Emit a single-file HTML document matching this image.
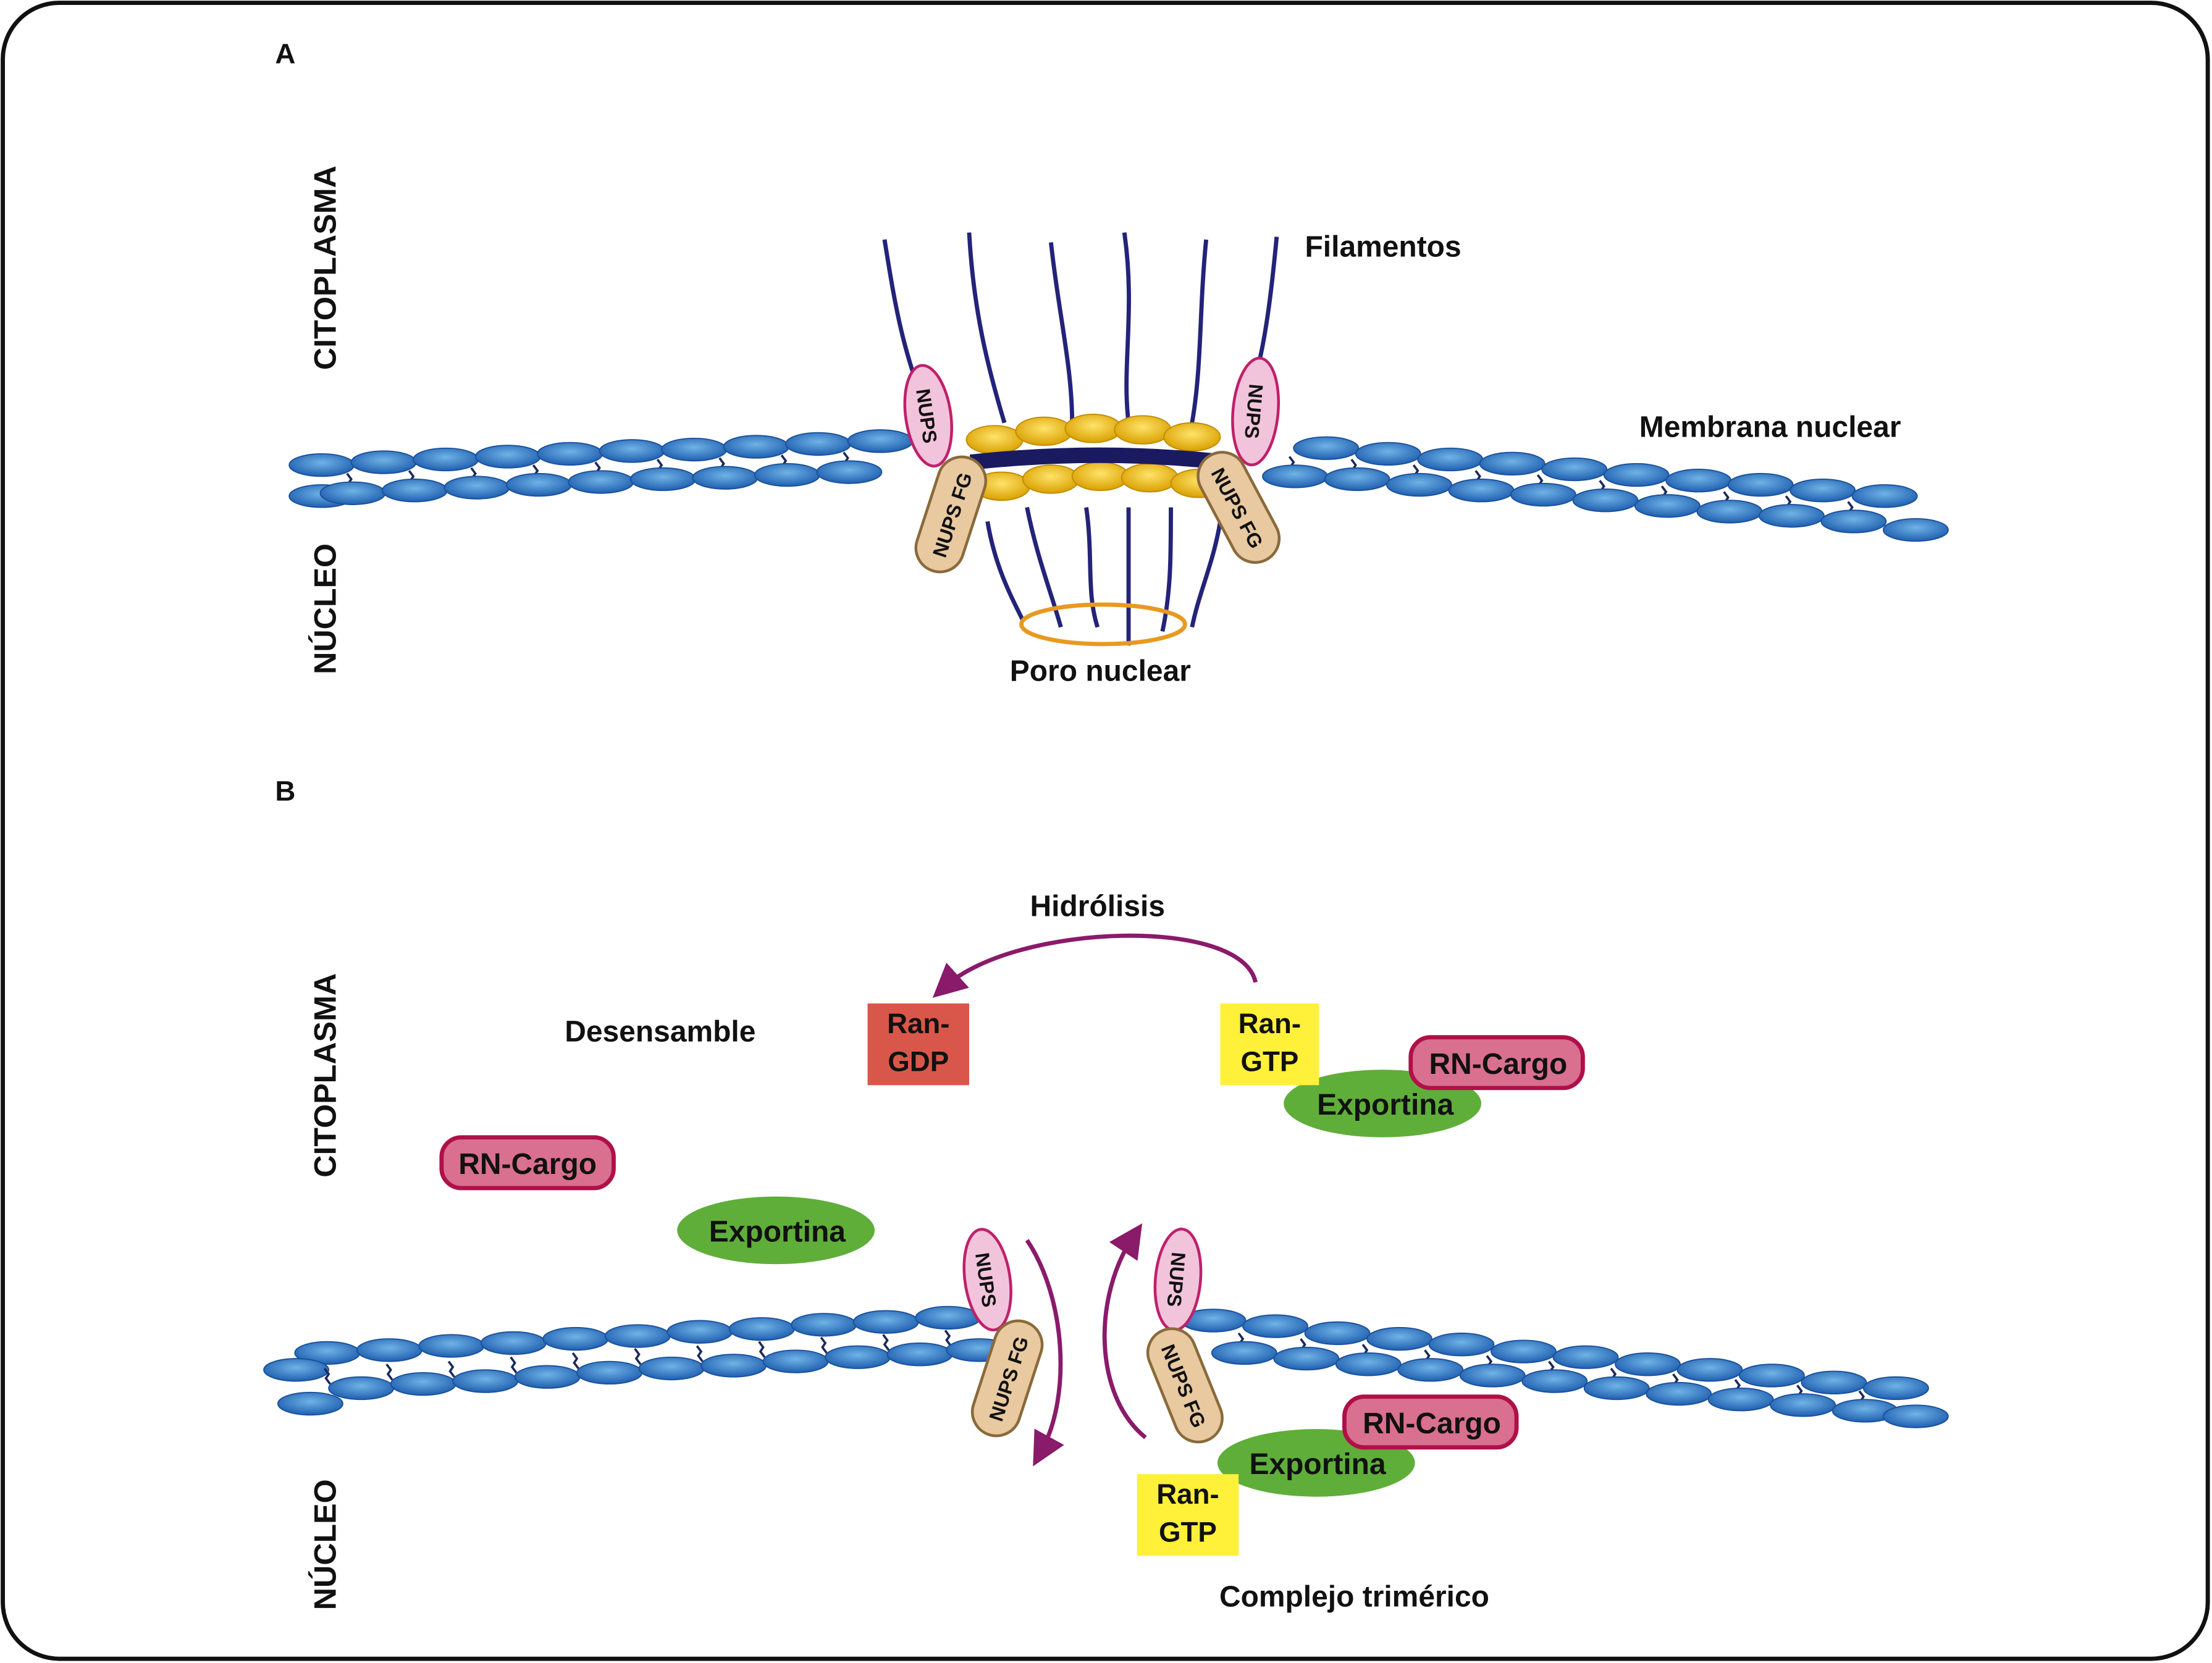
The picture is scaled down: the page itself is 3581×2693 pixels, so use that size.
<!DOCTYPE html>
<html><head><meta charset="utf-8"><style>
html,body{margin:0;padding:0;background:#fff}
svg{display:block}
text{font-family:"Liberation Sans",Arial,sans-serif;font-weight:bold;fill:#111}
</style></head><body>
<svg width="3581" height="2693" viewBox="0 0 1568 1180" preserveAspectRatio="none" xmlns="http://www.w3.org/2000/svg">
<defs>
<radialGradient id="bg" cx="50%" cy="40%" r="60%"><stop offset="0" stop-color="#6fb3e6"/><stop offset="1" stop-color="#1f5fb0"/></radialGradient>
<radialGradient id="gg" cx="50%" cy="40%" r="60%"><stop offset="0" stop-color="#ffe36a"/><stop offset="1" stop-color="#d9a000"/></radialGradient>
<g id="e"><ellipse rx="23" ry="8" fill="url(#bg)" stroke="#1a4f9a" stroke-width="0.8"/></g>
<g id="l"><path d="M-4,-14 l3,4 l-2,3 l3,4" stroke="#1a2a5a" stroke-width="1.6" fill="none"/></g>
<g id="g"><ellipse rx="20" ry="10" fill="url(#gg)" stroke="#c08a00" stroke-width="0.8"/></g>
<marker id="ar" markerWidth="8" markerHeight="8" refX="4" refY="4" orient="auto" markerUnits="strokeWidth"><path d="M0,0 L8,4 L0,8 Z" fill="#8a1a6a"/></marker>
</defs>
<rect x="2" y="2" width="1563" height="1175" rx="40" fill="#fff" stroke="#111" stroke-width="3"/>

<text x="195" y="45" font-size="20">A</text>
<text x="195" y="568" font-size="20">B</text>
<text transform="translate(238,190) rotate(-90)" font-size="22" text-anchor="middle">CITOPLASMA</text>
<text transform="translate(238,432) rotate(-90)" font-size="22" text-anchor="middle">NÚCLEO</text>
<text transform="translate(238,763) rotate(-90)" font-size="22" text-anchor="middle">CITOPLASMA</text>
<text transform="translate(238,1096) rotate(-90)" font-size="22" text-anchor="middle">NÚCLEO</text>

<!-- Membrane A left -->
<g>
<use href="#e" x="228" y="330"/><use href="#e" x="272" y="328"/><use href="#e" x="316" y="326"/><use href="#e" x="360" y="324"/><use href="#e" x="404" y="322"/><use href="#e" x="448" y="320"/><use href="#e" x="492" y="319"/><use href="#e" x="536" y="317"/><use href="#e" x="580" y="315"/><use href="#e" x="624" y="313"/>
<use href="#l" x="250" y="350"/><use href="#l" x="294" y="348"/><use href="#l" x="338" y="346"/><use href="#l" x="382" y="344"/><use href="#l" x="426" y="342"/><use href="#l" x="470" y="340"/><use href="#l" x="514" y="339"/><use href="#l" x="558" y="337"/><use href="#l" x="602" y="335"/>
<use href="#e" x="228" y="352"/><use href="#e" x="250" y="350"/><use href="#e" x="294" y="348"/><use href="#e" x="338" y="346"/><use href="#e" x="382" y="344"/><use href="#e" x="426" y="342"/><use href="#e" x="470" y="340"/><use href="#e" x="514" y="339"/><use href="#e" x="558" y="337"/><use href="#e" x="602" y="335"/>
</g>
<!-- Membrane A right -->
<g>
<use href="#e" x="940" y="318"/><use href="#e" x="984" y="322"/><use href="#e" x="1028" y="326"/><use href="#e" x="1072" y="329"/><use href="#e" x="1116" y="333"/><use href="#e" x="1160" y="337"/><use href="#e" x="1204" y="341"/><use href="#e" x="1248" y="344"/><use href="#e" x="1292" y="348"/><use href="#e" x="1336" y="352"/>
<use href="#l" x="918" y="338"/><use href="#l" x="962" y="340"/><use href="#l" x="1006" y="344"/><use href="#l" x="1050" y="348"/><use href="#l" x="1094" y="351"/><use href="#l" x="1138" y="355"/><use href="#l" x="1182" y="359"/><use href="#l" x="1226" y="363"/><use href="#l" x="1270" y="366"/><use href="#l" x="1314" y="370"/>
<use href="#e" x="918" y="338"/><use href="#e" x="962" y="340"/><use href="#e" x="1006" y="344"/><use href="#e" x="1050" y="348"/><use href="#e" x="1094" y="351"/><use href="#e" x="1138" y="355"/><use href="#e" x="1182" y="359"/><use href="#e" x="1226" y="363"/><use href="#e" x="1270" y="366"/><use href="#e" x="1314" y="370"/><use href="#e" x="1358" y="376"/>
</g>

<!-- Filaments A -->
<g stroke="#23237a" stroke-width="3" fill="none">
<path d="M627,170 C635,220 640,250 660,300"/>
<path d="M687,165 C690,220 700,260 712,300"/>
<path d="M745,172 C750,220 760,260 760,300"/>
<path d="M797,165 C805,220 795,260 800,300"/>
<path d="M855,170 C850,220 852,260 845,300"/>
<path d="M905,168 C900,220 895,260 880,300"/>
<path d="M700,370 C705,400 715,420 725,440"/>
<path d="M728,360 C735,395 745,420 752,445"/>
<path d="M770,360 C775,395 770,420 778,445"/>
<path d="M800,360 C800,395 800,430 800,458"/>
<path d="M830,360 C830,395 830,420 824,448"/>
<path d="M865,370 C860,400 850,420 845,445"/>
</g>
<ellipse cx="782" cy="443" rx="58" ry="14" fill="none" stroke="#e89a20" stroke-width="3"/>
<!-- Pore gold -->
<g>
<use href="#g" x="705" y="312"/><use href="#g" x="740" y="306"/><use href="#g" x="775" y="304"/><use href="#g" x="810" y="305"/><use href="#g" x="845" y="310"/>
<use href="#g" x="710" y="345"/><use href="#g" x="745" y="340"/><use href="#g" x="780" y="338"/><use href="#g" x="815" y="339"/><use href="#g" x="850" y="343"/>
</g>
<path d="M688,328 Q780,318 868,328" stroke="#1a1a60" stroke-width="11" fill="none"/>
<!-- NUPS A -->
<g transform="translate(658,295) rotate(82)"><ellipse rx="36" ry="16" fill="#f2c4dc" stroke="#c0206a" stroke-width="2"/><text y="6" font-size="14" text-anchor="middle">NUPS</text></g>
<g transform="translate(674,365) rotate(-72)"><rect x="-42" y="-17" width="84" height="34" rx="17" fill="#e8c9a0" stroke="#8a6a3a" stroke-width="2"/><text y="6" font-size="14" text-anchor="middle">NUPS FG</text></g>
<g transform="translate(890,292) rotate(95)"><ellipse rx="38" ry="16" fill="#f2c4dc" stroke="#c0206a" stroke-width="2"/><text y="6" font-size="14" text-anchor="middle">NUPS</text></g>
<g transform="translate(878,360) rotate(62)"><rect x="-42" y="-17" width="84" height="34" rx="17" fill="#e8c9a0" stroke="#8a6a3a" stroke-width="2"/><text y="6" font-size="14" text-anchor="middle">NUPS FG</text></g>

<text x="925" y="182" font-size="21">Filamentos</text>
<text x="1162" y="310" font-size="21">Membrana nuclear</text>
<text x="780" y="483" font-size="21" text-anchor="middle">Poro nuclear</text>

<!-- Membrane B left -->
<g>
<use href="#e" x="232" y="960"/><use href="#e" x="276" y="958"/><use href="#e" x="320" y="955"/><use href="#e" x="364" y="953"/><use href="#e" x="408" y="950"/><use href="#e" x="452" y="948"/><use href="#e" x="496" y="945"/><use href="#e" x="540" y="943"/><use href="#e" x="584" y="940"/><use href="#e" x="628" y="938"/><use href="#e" x="672" y="935"/>
<use href="#e" x="210" y="972"/>
<use href="#l" x="234" y="985"/><use href="#l" x="278" y="982"/><use href="#l" x="322" y="980"/><use href="#l" x="366" y="977"/><use href="#l" x="410" y="974"/><use href="#l" x="454" y="971"/><use href="#l" x="498" y="969"/><use href="#l" x="542" y="966"/><use href="#l" x="586" y="963"/><use href="#l" x="630" y="961"/><use href="#l" x="674" y="958"/>
<use href="#e" x="220" y="996"/><use href="#e" x="256" y="985"/><use href="#e" x="300" y="982"/><use href="#e" x="344" y="980"/><use href="#e" x="388" y="977"/><use href="#e" x="432" y="974"/><use href="#e" x="476" y="971"/><use href="#e" x="520" y="969"/><use href="#e" x="564" y="966"/><use href="#e" x="608" y="963"/><use href="#e" x="652" y="961"/><use href="#e" x="694" y="958"/>
</g>
<!-- Membrane B right -->
<g>
<use href="#e" x="860" y="937"/><use href="#e" x="904" y="941"/><use href="#e" x="948" y="946"/><use href="#e" x="992" y="950"/><use href="#e" x="1036" y="954"/><use href="#e" x="1080" y="959"/><use href="#e" x="1124" y="963"/><use href="#e" x="1168" y="968"/><use href="#e" x="1212" y="972"/><use href="#e" x="1256" y="976"/><use href="#e" x="1300" y="981"/><use href="#e" x="1344" y="985"/>
<use href="#l" x="882" y="960"/><use href="#l" x="926" y="964"/><use href="#l" x="970" y="968"/><use href="#l" x="1014" y="972"/><use href="#l" x="1058" y="976"/><use href="#l" x="1102" y="980"/><use href="#l" x="1146" y="985"/><use href="#l" x="1190" y="989"/><use href="#l" x="1234" y="993"/><use href="#l" x="1278" y="997"/><use href="#l" x="1322" y="1001"/>
<use href="#e" x="882" y="960"/><use href="#e" x="926" y="964"/><use href="#e" x="970" y="968"/><use href="#e" x="1014" y="972"/><use href="#e" x="1058" y="976"/><use href="#e" x="1102" y="980"/><use href="#e" x="1146" y="985"/><use href="#e" x="1190" y="989"/><use href="#e" x="1234" y="993"/><use href="#e" x="1278" y="997"/><use href="#e" x="1322" y="1001"/><use href="#e" x="1358" y="1005"/>
</g>
<!-- NUPS B -->
<g transform="translate(700,908) rotate(82)"><ellipse rx="36" ry="16" fill="#f2c4dc" stroke="#c0206a" stroke-width="2"/><text y="6" font-size="14" text-anchor="middle">NUPS</text></g>
<g transform="translate(714,978) rotate(-72)"><rect x="-42" y="-17" width="84" height="34" rx="17" fill="#e8c9a0" stroke="#8a6a3a" stroke-width="2"/><text y="6" font-size="14" text-anchor="middle">NUPS FG</text></g>
<g transform="translate(835,908) rotate(95)"><ellipse rx="36" ry="16" fill="#f2c4dc" stroke="#c0206a" stroke-width="2"/><text y="6" font-size="14" text-anchor="middle">NUPS</text></g>
<g transform="translate(840,983) rotate(68)"><rect x="-42" y="-17" width="84" height="34" rx="17" fill="#e8c9a0" stroke="#8a6a3a" stroke-width="2"/><text y="6" font-size="14" text-anchor="middle">NUPS FG</text></g>

<!-- arrows B -->
<path d="M728,880 C755,920 760,990 738,1030" stroke="#8a1a6a" stroke-width="3" fill="none" marker-end="url(#ar)"/>
<path d="M812,1020 C775,990 775,920 803,878" stroke="#8a1a6a" stroke-width="3" fill="none" marker-end="url(#ar)"/>
<path d="M890,697 C880,650 720,655 670,700" stroke="#8a1a6a" stroke-width="3" fill="none" marker-end="url(#ar)"/>
<text x="778" y="650" font-size="21" text-anchor="middle">Hidrólisis</text>
<text x="468" y="739" font-size="21" text-anchor="middle">Desensamble</text>

<rect x="615" y="712" width="72" height="58" fill="#d9574a"/>
<text x="651" y="733" font-size="20" text-anchor="middle">Ran-</text><text x="651" y="760" font-size="20" text-anchor="middle">GDP</text>

<ellipse cx="980" cy="783" rx="70" ry="24" fill="#5fae3a"/>
<text x="982" y="791" font-size="21" text-anchor="middle">Exportina</text>
<rect x="865" y="712" width="70" height="58" fill="#fff03a"/>
<text x="900" y="733" font-size="20" text-anchor="middle">Ran-</text><text x="900" y="760" font-size="20" text-anchor="middle">GTP</text>
<rect x="1000" y="736" width="122" height="36" rx="14" fill="#d9708f" stroke="#b0104a" stroke-width="3"/>
<text x="1062" y="762" font-size="21" text-anchor="middle">RN-Cargo</text>

<rect x="313" y="807" width="122" height="36" rx="14" fill="#d9708f" stroke="#b0104a" stroke-width="3"/>
<text x="374" y="833" font-size="21" text-anchor="middle">RN-Cargo</text>
<ellipse cx="550" cy="873" rx="70" ry="24" fill="#5fae3a"/>
<text x="551" y="881" font-size="21" text-anchor="middle">Exportina</text>

<ellipse cx="933" cy="1038" rx="70" ry="24" fill="#5fae3a"/>
<text x="934" y="1046" font-size="21" text-anchor="middle">Exportina</text>
<rect x="953" y="991" width="122" height="36" rx="14" fill="#d9708f" stroke="#b0104a" stroke-width="3"/>
<text x="1015" y="1017" font-size="21" text-anchor="middle">RN-Cargo</text>
<rect x="806" y="1046" width="72" height="58" fill="#fff03a"/>
<text x="842" y="1067" font-size="20" text-anchor="middle">Ran-</text><text x="842" y="1094" font-size="20" text-anchor="middle">GTP</text>
<text x="960" y="1140" font-size="21" text-anchor="middle">Complejo trimérico</text>
</svg>
</body></html>
